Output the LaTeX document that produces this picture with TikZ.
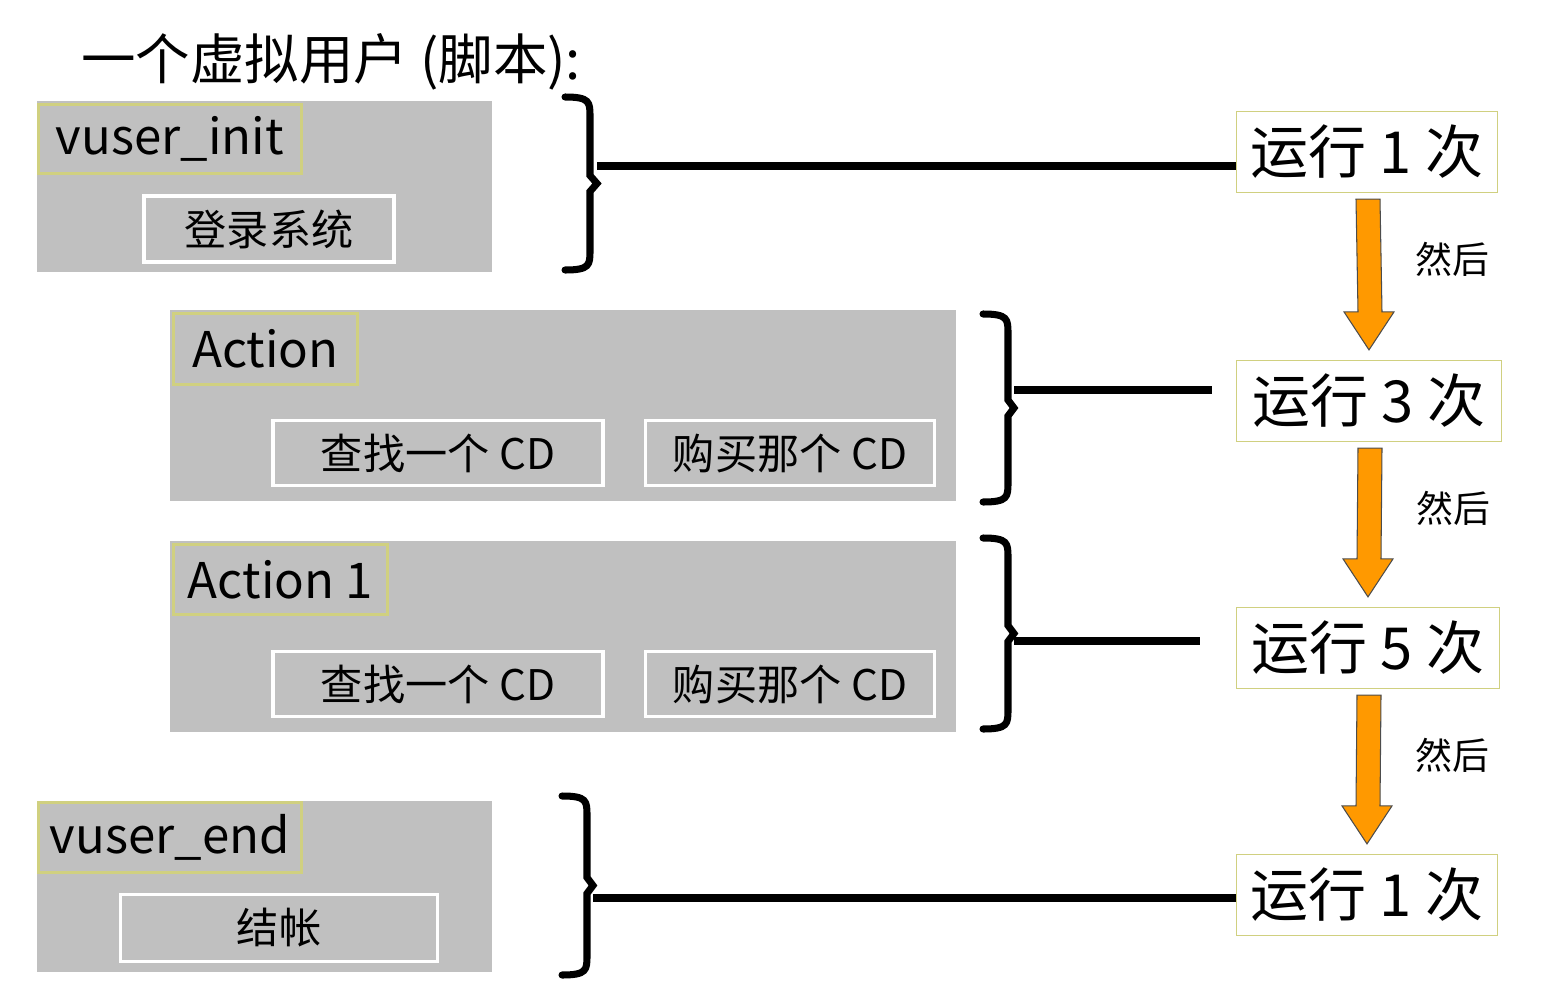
\documentclass[tikz,border=0pt]{standalone}
\usepackage{fontspec}
\setmainfont{Noto Sans CJK SC}
\usetikzlibrary{calc}
\definecolor{boxgray}{RGB}{192,192,192}
\definecolor{tagline}{RGB}{208,208,128}
\definecolor{runorange}{RGB}{255,153,0}
\tikzset{
    block/.style={fill=boxgray, draw=none},
    tag/.style={draw=tagline, line width=1.5pt, anchor=north west, inner sep=0pt,
        font=\fontsize{28}{30}\selectfont},
    stepbox/.style={draw=white, line width=2pt, fill=boxgray, inner sep=0pt,
        font=\fontsize{24}{26}\selectfont},
    runs/.style={draw=tagline, line width=0.8pt, fill=white, inner sep=0pt,
        minimum height=46pt, font=\fontsize{33}{35}\selectfont},
    brace/.style={line width=4pt, line cap=round},
    link/.style={line width=4.5pt},
    then/.style={font=\fontsize{21}{23}\selectfont},
    flow/.style={fill=runorange, draw=black!70, line width=0.6pt}
}
\newcommand{\curly}[4]{% x, top, bottom, tipx
    \draw[brace] (#1-25,#2) .. controls (#1,#2) and (#1,#2+5) .. (#1,#2+20)
        -- (#1,{(#2+#3)/2-8}) -- (#4,{(#2+#3)/2}) -- (#1,{(#2+#3)/2+8})
        -- (#1,#3-20) .. controls (#1,#3-5) and (#1,#3) .. (#1-25,#3);
}
\begin{document}
\begin{tikzpicture}[x=0.02cm, y=-0.02cm]
    \useasboundingbox (0,0) rectangle (1542,1004);
    \node[anchor=west, font=\fontsize{31}{33}\selectfont] (title) at (75,62) {一个虚拟用户 (脚本):};

    % script blocks
    \fill[block] (37,101) rectangle (492,272);
    \node[tag, minimum width=263*0.02cm, minimum height=69*0.02cm] (init) at (37,103) {vuser\_init};
    \node[stepbox, minimum width=250*0.02cm, minimum height=66*0.02cm] (login) at (269,229) {登录系统};

    \fill[block] (170,310) rectangle (956,501);
    \node[tag, minimum width=184*0.02cm, minimum height=71*0.02cm] (act) at (172,312) {Action};
    \node[stepbox, minimum width=330*0.02cm, minimum height=65*0.02cm] (find) at (438,453) {查找一个 CD};
    \node[stepbox, minimum width=289*0.02cm, minimum height=65*0.02cm] (buy) at (790,453) {购买那个 CD};

    \fill[block] (170,541) rectangle (956,732);
    \node[tag, minimum width=214*0.02cm, minimum height=70*0.02cm] (actone) at (172,543) {Action 1};
    \node[stepbox, minimum width=330*0.02cm, minimum height=65*0.02cm] (findone) at (438,684) {查找一个 CD};
    \node[stepbox, minimum width=289*0.02cm, minimum height=65*0.02cm] (buyone) at (790,684) {购买那个 CD};

    \fill[block] (37,801) rectangle (492,972);
    \node[tag, minimum width=263*0.02cm, minimum height=70*0.02cm] (end) at (37,801) {vuser\_end};
    \node[stepbox, minimum width=317*0.02cm, minimum height=67*0.02cm] (pay) at (279,928) {结帐};

    % run counts
    \node[runs, minimum width=261*0.02cm] (runa) at (1367,152) {运行 1 次};
    \node[runs, minimum width=265*0.02cm] (runb) at (1369,401) {运行 3 次};
    \node[runs, minimum width=263*0.02cm] (runc) at (1368,648) {运行 5 次};
    \node[runs, minimum width=261*0.02cm] (rund) at (1367,895) {运行 1 次};

    % braces and links
    \curly{590}{97}{270}{597}
    \curly{1008}{314}{502}{1014}
    \curly{1008}{538}{729}{1014}
    \curly{587}{796}{975}{593}
    \coordinate (bra) at (597,166);
    \coordinate (brb) at (1014,390);
    \coordinate (brc) at (1014,641);
    \coordinate (brd) at (593,898);
    \draw[link] (bra) -- (runa.west |- bra);
    \draw[link] (brb) -- (1212,390);
    \draw[link] (brc) -- (1200,641);
    \draw[link] (brd) -- (rund.west |- brd);

    % then arrows
    \foreach \from/\to/\lab in {runa/runb/tha, runb/runc/thb, runc/rund/thc} {
        \draw[flow] ($(\from.south)+(-11,6)$) -- ($(\from.south)+(13,6)$)
            -- ($(\to.north)+(13,-48)$) -- ($(\to.north)+(25,-48)$)
            -- ($(\to.north)+(0,-10)$) -- ($(\to.north)+(-25,-48)$)
            -- ($(\to.north)+(-11,-48)$) -- cycle;
        \node[then] (\lab) at ($(\from.south)!0.4!(\to.north)+(85,0)$) {然后};
    }
\end{tikzpicture}
\end{document}
